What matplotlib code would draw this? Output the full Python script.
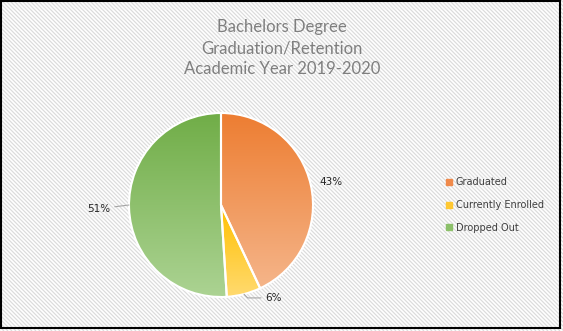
import numpy as np
import matplotlib
matplotlib.use("Agg")
import matplotlib.pyplot as plt
from matplotlib.patches import Rectangle
from matplotlib.colors import LinearSegmentedColormap
from matplotlib.lines import Line2D

categories = ["Graduated", "Currently Enrolled", "Dropped Out"]
values = [43, 6, 51]
pct_labels = ["43%", "6%", "51%"]
title = "Bachelors Degree\nGraduation/Retention\nAcademic Year 2019-2020"

# dark (top) -> light (bottom), Excel-ish gradients
grad_colors = [("#ED7D31", "#F5B58A"), ("#FFC000", "#FFDA70"), ("#70AD47", "#ACD393")]
legend_colors = ["#F08A4B", "#FFC832", "#8CC06A"]

W, H = 563, 331
fig = plt.figure(figsize=(W / 100, H / 100), dpi=100)
fig.patch.set_facecolor("white")

# diagonal striped background, drawn in pixel units
bg = fig.add_axes([0, 0, 1, 1])
bg.set_axis_off()
bg.set_xlim(0, W)
bg.set_ylim(0, H)
for x0 in range(-H, W + 4, 4):
    bg.plot([x0, x0 + H], [H, 0], color="#DCDCDC", lw=0.9, solid_capstyle="butt")
bg.add_patch(Rectangle((0.75, 3.5), 559, 326.5, fill=False, edgecolor="black",
                       linewidth=1.5, zorder=5))

# pie axes: center (221, 205) px from top-left, radius 92 px
cx, cy, r = 221, 205, 92
ax = fig.add_axes([(cx - r) / W, (H - cy - r) / H, 2 * r / W, 2 * r / H])
wedges, _ = ax.pie(values, startangle=90, counterclock=False, radius=1,
                   wedgeprops=dict(edgecolor="white", linewidth=1.5))
ax.set_aspect("equal")
ax.set_axis_off()

grad = np.linspace(0, 1, 256).reshape(-1, 1)
for w, (c1, c2) in zip(wedges, grad_colors):
    cmap = LinearSegmentedColormap.from_list("g", [c1, c2])
    path = w.get_path().transformed(w.get_patch_transform())
    x0, y0 = path.vertices.min(axis=0)
    x1, y1 = path.vertices.max(axis=0)
    im = ax.imshow(grad, cmap=cmap, extent=[x0, x1, y0, y1], origin="upper",
                   aspect="auto", zorder=1)
    im.set_clip_path(w)
    w.set_facecolor("none")
    w.set_zorder(2)
ax.set_xlim(-1, 1)
ax.set_ylim(-1, 1)

# percentage labels
text_kw = dict(fontsize=7.5, color="#262626", family="DejaVu Sans")
ax.text(1.065, 0.25, pct_labels[0], ha="left", va="center", **text_kw)
ax.annotate(pct_labels[1], xy=(0.25, -0.97), xytext=(0.48, -1.01),
            ha="left", va="center", **text_kw,
            arrowprops=dict(arrowstyle="-", color="#A6A6A6", lw=0.8,
                            connectionstyle="angle,angleA=0,angleB=-45,rad=0",
                            shrinkA=1, shrinkB=0))
ax.annotate(pct_labels[2], xy=(-1.0, 0.0), xytext=(-1.2, -0.04),
            ha="right", va="center", **text_kw,
            arrowprops=dict(arrowstyle="-", color="#A6A6A6", lw=0.8,
                            shrinkA=1, shrinkB=0))

fig.text(282 / W, 1 - 48 / H, title, ha="center", va="center", fontsize=12,
         color="#7F7F7F", family="Lato", linespacing=1.42)

handles = [Line2D([], [], marker="s", linestyle="", markersize=4, color=c) for c in legend_colors]
fig.legend(handles, categories, loc="center left", bbox_to_anchor=(436 / W, 1 - 205 / H),
           frameon=False, labelcolor="#404040", handletextpad=0.35,
           handlelength=0.8, labelspacing=1.3, prop={"family": "DejaVu Sans", "size": 7})

fig.savefig("out.png", dpi=100)
